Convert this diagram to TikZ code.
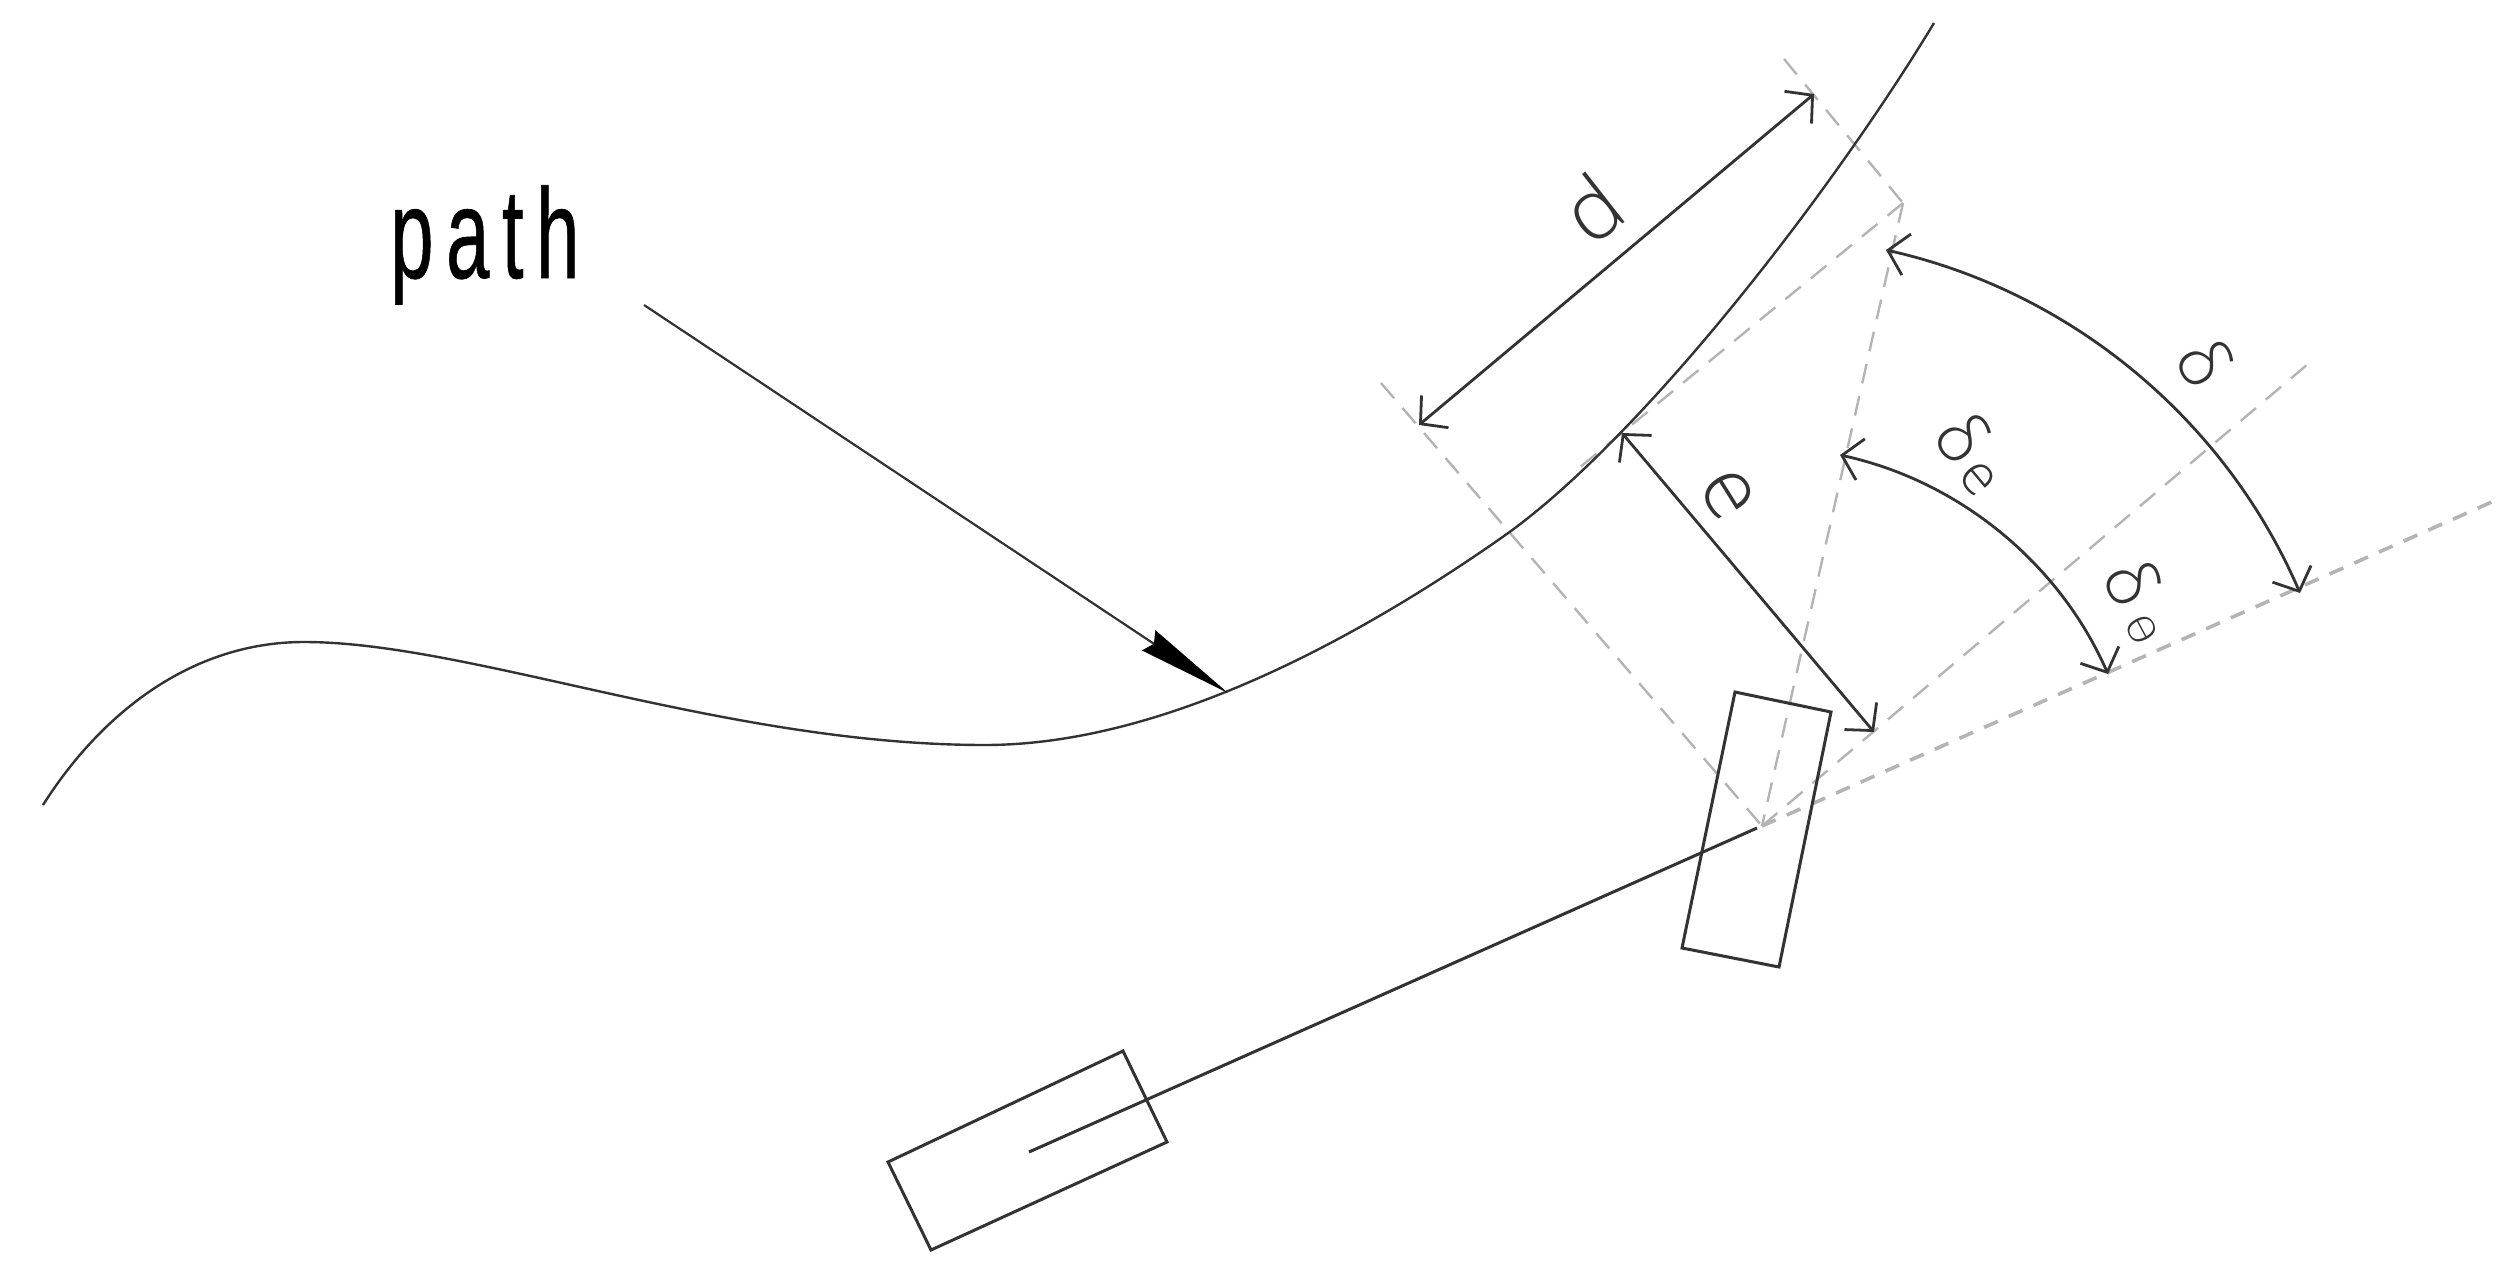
\documentclass[tikz,border=0pt]{standalone}
\usepackage{fontspec}
\newfontfamily\pathfont[LetterSpace=16,FakeBold=0.6]{Liberation Sans}
\newfontfamily\thinfont{Open Sans Light}
\usetikzlibrary{arrows.meta}
\definecolor{inkc}{HTML}{333333}
\definecolor{dashc}{HTML}{B4B4B4}
\tikzset{
  body/.style={draw=inkc,line width=3pt,line join=miter},
  curveline/.style={draw=inkc,line width=2.4pt},
  guide/.style={draw=dashc,line width=2.4pt,dash pattern=on 20pt off 13pt},
  guidefar/.style={draw=dashc,line width=3.6pt,dash pattern=on 15pt off 12pt},
  dim/.style={draw=inkc,line width=2.8pt,{Straight Barb[length=19pt,width=42pt,line width=2.8pt]}-{Straight Barb[length=19pt,width=42pt,line width=2.8pt]}},
  lab/.style={inner sep=0pt,text=inkc,font=\thinfont\fontsize{84}{84}\selectfont},
  labg/.style={inner sep=0pt,text=inkc,font=\thinfont\fontsize{70}{70}\selectfont},
}
\begin{document}
\begin{tikzpicture}[x=1pt,y=-1pt]
\useasboundingbox (0,0) rectangle (2508,1276);
% key points
\coordinate (apex) at (1762,826);
\coordinate (axleR) at (1029,1152);
\coordinate (axleF) at (1757,828);
\coordinate (cornerA) at (1903,203);
\coordinate (topL) at (1784,59);
\coordinate (leftL) at (1381,383);
\coordinate (eFoot) at (1574,472);
\coordinate (rayMid) at (2315,358);
\coordinate (rayFar) at (2494,501);
\coordinate (dA) at (1814,94);
\coordinate (dB) at (1419,425);
\coordinate (eA) at (1622,433);
\coordinate (eB) at (1874,732);
\coordinate (dlA) at (1886,250);
\coordinate (dlB) at (2300,593);
\coordinate (deA) at (1840,455);
\coordinate (deB) at (2108,674);
\coordinate (ptrS) at (644,305);
\coordinate (ptrE) at (1228,693);
% guides
\draw[guide] (topL) -- (cornerA);
\draw[guide] (leftL) -- (apex);
\draw[guide] (cornerA) -- (eFoot);
\draw[guide] (cornerA) -- (apex);
\draw[guide] (apex) -- (rayMid);
\draw[guidefar] (apex) -- (rayFar);
% path
\draw[curveline] (43,805) .. controls (100,715) and (190,642) .. (304,642)
  .. controls (470,642) and (725,745) .. (985,745)
  .. controls (1170,745) and (1370,630) .. (1504,536)
  .. controls (1640,440) and (1830,195) .. (1934,23);
% wheels and axle
\draw[body] (888,1162) -- (1123,1051) -- (1167,1142) -- (931,1250) -- cycle;
\draw[body] (1735,692) -- (1831,712) -- (1779,967) -- (1682,948) -- cycle;
\draw[body] (axleR) -- (axleF);
% dimension arrows
\draw[dim] (dB) -- (dA);
\draw[dim] (eA) -- (eB);
\draw[dim] (dlA) to[bend left=27,looseness=0.9] (dlB);
\draw[dim] (deA) to[bend left=27,looseness=0.9] (deB);
% pointer
\draw[draw=inkc,line width=2.2pt,-{Stealth[length=95pt,width=24pt,inset=6pt,color=black]}] (ptrS) -- (ptrE);
% labels
\node[inner sep=0pt,anchor=base west,text=black] (pathlab) at (390,278) {\scalebox{0.78}[1.28]{\fontsize{100}{100}\selectfont\pathfont path}};
\node[lab,rotate=38] (dlab) at (1592,208) {d};
\node[lab,rotate=-58] (elab) at (1728,494) {e};
\node[labg,rotate=-57] (delta) at (2206,362) {δ};
\node[labg,rotate=-50] (deltae) at (1974,452) {δ\hspace{5pt}\raisebox{-4pt}{\fontsize{56}{56}\selectfont e}};
\node[labg,rotate=-62] (deltat) at (2142,600) {δ\hspace{12pt}\raisebox{-1pt}{\scalebox{0.7}[0.5]{θ}}};
\end{tikzpicture}
\end{document}
